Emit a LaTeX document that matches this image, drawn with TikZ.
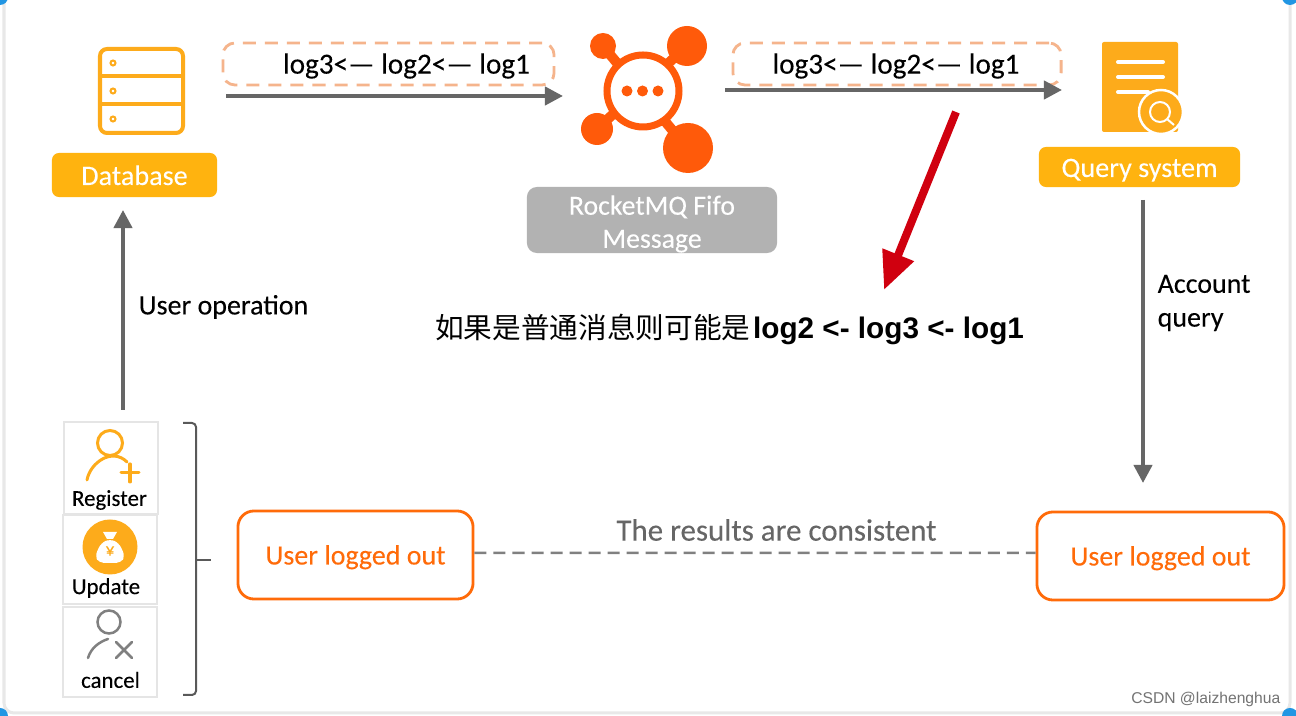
\documentclass[tikz,border=0pt]{standalone}
\usepackage{fontspec}
\setmainfont[FakeBold=0.15]{Carlito}
\newfontfamily\cjk{Noto Sans CJK SC}
\newfontfamily\arial{Liberation Sans}
\usetikzlibrary{arrows.meta}
\definecolor{amber}{HTML}{FDAB1B}
\definecolor{labelamber}{HTML}{FFB30F}
\definecolor{mqorange}{HTML}{FF5A0A}
\definecolor{flowgray}{HTML}{666666}
\definecolor{dashpeach}{HTML}{F5B48C}
\definecolor{handleblue}{HTML}{2196E3}
\definecolor{notered}{HTML}{D0000F}
\tikzset{
    badge/.style={rounded corners=0.07cm, inner sep=0pt, text=white, font=\fontsize{8}{9}\selectfont,
        text height=0.22cm, text depth=0.02cm},
    logbox/.style={draw=dashpeach, line width=0.028cm, dash pattern=on 0.13cm off 0.09cm, rounded corners=0.12cm,
        minimum width=#1, minimum height=0.42cm, inner sep=0pt},
    logtext/.style={font=\fontsize{8.3}{10}\selectfont, inner sep=0pt},
    flow/.style={draw=flowgray, line width=0.04cm, -{Triangle[length=0.18cm,width=0.18cm]}},
    opbox/.style={draw=black!10, line width=0.02cm, minimum width=0.94cm, inner sep=0pt},
    oplabel/.style={font=\fontsize{6.5}{8}\selectfont, inner sep=0pt},
    resultbox/.style={draw=mqorange!90!yellow, line width=0.028cm, rounded corners=0.16cm, minimum height=0.88cm,
        minimum width=#1, inner sep=0pt, text=mqorange!90!yellow, font=\fontsize{7.95}{9}\selectfont,
        text height=0.21cm, text depth=0.02cm},
    caption/.style={font=\fontsize{7.95}{9}\selectfont, inner sep=0pt}
}
\begin{document}
\begin{tikzpicture}[x=0.01cm,y=-0.01cm]
    \clip (0,0) rectangle (1296,716);
    \fill[white] (0,0) rectangle (1296,716);
    % frame and its corner handles
    \draw[black!9, line width=0.03cm, rounded corners=0.1cm] (4,-20) -- (4,713) -- (1290,713) -- (1290,-20);
    \fill[handleblue] (0,-3) circle (8);
    \fill[handleblue] (1290,-3) circle (8);
    \fill[handleblue] (0,716) circle (8);
    \fill[handleblue] (1290,716) circle (8);

    % database icon
    \draw[amber, line width=0.04cm, rounded corners=0.07cm] (100,49) rectangle (183,133);
    \draw[amber, line width=0.04cm] (100,76) -- (183,76);
    \draw[amber, line width=0.04cm] (100,104) -- (183,104);
    \foreach \y in {63,91,119}
        \draw[amber, line width=0.02cm] (113,\y) circle (2.5);
    \node[badge, fill=labelamber, minimum width=1.65cm, minimum height=0.44cm] (database) at (134.5,175) {Database};

    % rocketmq icon
    \draw[mqorange, line width=0.1cm] (603,46) -- (687,148);
    \draw[mqorange, line width=0.1cm] (687,46) -- (597,129);
    \fill[mqorange] (603,46) circle (13);
    \fill[mqorange] (687,46) circle (20);
    \fill[mqorange] (597,129) circle (16);
    \fill[mqorange] (688,148) circle (25);
    \draw[mqorange, line width=0.07cm, fill=white] (643,91) circle (36);
    \foreach \x in {627,642.5,658}
        \fill[mqorange] (\x,91) circle (5.5);
    \node[fill=black!30, rounded corners=0.1cm, minimum width=2.5cm, minimum height=0.66cm] (rocketmq) at (652,220) {};
    \node[text=white, inner sep=0pt, align=center, font=\fontsize{7.9}{9.4}\selectfont] (rocketmqtext) at (652,224) {RocketMQ Fifo\\Message};

    % query system icon
    \fill[amber, rounded corners=0.02cm] (1102,42) rectangle (1178,132);
    \foreach \y/\e in {62/1163,77/1163,92/1148}
        \draw[white, line width=0.04cm, line cap=round] (1118,\y) -- (\e,\y);
    \draw[white, line width=0.025cm, fill=amber] (1161,112) circle (22);
    \draw[white, line width=0.02cm] (1160,112) circle (10);
    \draw[white, line width=0.02cm] (1167,119) -- (1174,125);
    \node[badge, fill=labelamber, minimum width=2.01cm, minimum height=0.4cm] (query) at (1139.5,167) {Query system};

    % log queues
    \node[logbox=3.31cm] (queueone) at (388.5,64) {};
    \node[logtext] (queueonetext) at (406.5,66) {log3<— log2<— log1};
    \node[logbox=3.28cm] (queuetwo) at (897,64) {};
    \node[logtext] (queuetwotext) at (896,66) {log3<— log2<— log1};
    \coordinate (dbout) at (226,96);
    \coordinate (mqin) at (563,96);
    \coordinate (mqout) at (725,90);
    \coordinate (queryin) at (1062,90);
    \draw[flow] (dbout) -- (mqin);
    \draw[flow] (mqout) -- (queryin);

    % red note
    \coordinate (notestart) at (956,112);
    \coordinate (noteend) at (884,290);
    \draw[draw=notered, line width=0.08cm, -{Triangle[length=0.38cm,width=0.32cm,fill=notered]}] (notestart) -- (noteend);
    \node[inner sep=0pt, font=\fontsize{8.15}{10}\selectfont] (note) at (729.5,329) {{\cjk 如果是普通消息则可能是}\hspace{0.8pt}{\arial\bfseries\fontsize{8.45}{10}\selectfont log2 <- log3 <- log1}};

    % operations
    \node[opbox, minimum height=0.91cm] (register) at (111,468) {};
    \node[opbox, minimum height=0.88cm] (update) at (110,559.5) {};
    \node[opbox, minimum height=0.9cm] (cancel) at (110,652) {};
    \draw[amber, line width=0.03cm] (110,443) circle (12.5);
    \draw[amber, line width=0.03cm, line cap=round] (87,480) .. controls (90,463) and (112,447) .. (127,462);
    \draw[amber, line width=0.03cm, line cap=round] (121,473) -- (139,473);
    \draw[amber, line width=0.03cm, line cap=round] (130,464) -- (130,482);
    \node[oplabel] (registerlabel) at (109.5,500) {Register};
    \fill[amber] (110,547) circle (27.5);
    \fill[white, rounded corners=0.05cm] (110,539) -- (119,543) -- (125,556) -- (121,563) -- (99,563) -- (95,556) -- (101,543) -- cycle;
    \fill[white] (103,532) -- (117,532) -- (113,539) -- (107,539) -- cycle;
    \node[text=amber, inner sep=0pt, font=\fontsize{5}{6}\selectfont] (yen) at (110,551) {¥};
    \node[oplabel] (updatelabel) at (106,588) {Update};
    \draw[gray, line width=0.025cm] (109,622) circle (11.5);
    \draw[gray, line width=0.025cm, line cap=round] (88,658) .. controls (91,648) and (99,642) .. (108,639);
    \draw[gray, line width=0.025cm, line cap=round] (116,642) -- (132,658);
    \draw[gray, line width=0.025cm, line cap=round] (132,642) -- (116,658);
    \node[oplabel] (cancellabel) at (110.5,680) {cancel};
    \coordinate (opout) at (123,410);
    \coordinate (dbin) at (123,210);
    \draw[flow] (opout) -- (dbin);
    \node[caption, anchor=west] (operation) at (138,307) {User operation};

    % bracket
    \coordinate (brace) at (211,560);
    \draw[black!65, line width=0.02cm, rounded corners=0.04cm] (183,423) -- (196,423) -- (196,695) -- (183,695);
    \draw[black!65, line width=0.02cm] (196,560) -- (brace);

    % results
    \node[resultbox=2.35cm] (loggedoutleft) at (355.5,555) {User logged out};
    \node[resultbox=2.47cm] (loggedoutright) at (1160.5,556) {User logged out};
    \draw[black!50, line width=0.025cm, dash pattern=on 0.12cm off 0.07cm] ([yshift=0.02cm]loggedoutleft.east) -- ([yshift=0.03cm]loggedoutright.west);
    \node[caption, text=black!60, font=\fontsize{8.8}{10}\selectfont] (consistent) at (776.5,530) {The results are consistent};

    % account query
    \coordinate (queryout) at (1143,200);
    \coordinate (accountin) at (1143,483);
    \draw[flow] (queryout) -- (accountin);
    \node[caption, anchor=west, align=left, font=\fontsize{7.95}{9.6}\selectfont] (account) at (1157,303) {Account\\query};

    % watermark
    \node[anchor=east, inner sep=0pt, text=black!55, font=\arial\fontsize{4.45}{6}\selectfont] (watermark) at (1281,699) {CSDN @laizhenghua};
\end{tikzpicture}
\end{document}
